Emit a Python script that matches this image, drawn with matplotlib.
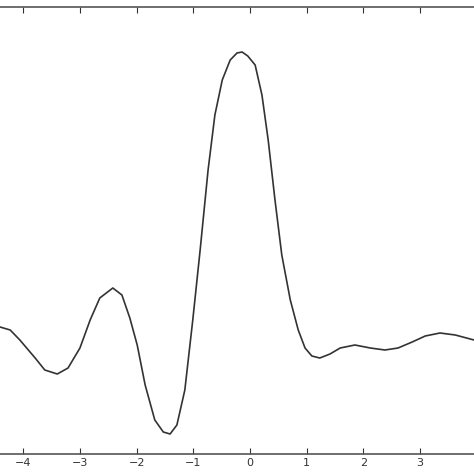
import matplotlib
matplotlib.use("Agg")
import matplotlib.pyplot as plt

x = [-4.41,-4.23,-4.06,-3.79,-3.62,-3.40,-3.21,-3.00,-2.82,-2.65,-2.42,-2.26,-2.12,-1.99,-1.85,-1.68,-1.53,-1.41,-1.29,-1.15,-1.01,-0.88,-0.74,-0.62,-0.49,-0.35,-0.23,-0.14,-0.04,0.09,0.21,0.32,0.44,0.56,0.71,0.85,0.97,1.09,1.23,1.41,1.59,1.85,2.12,2.38,2.61,2.86,3.09,3.35,3.62,3.95]
y = [0,-0.03,-0.13,-0.31,-0.43,-0.47,-0.41,-0.21,0.07,0.29,0.39,0.32,0.09,-0.18,-0.58,-0.93,-1.05,-1.07,-0.98,-0.63,0.07,0.77,1.57,2.12,2.47,2.67,2.74,2.75,2.71,2.62,2.32,1.87,1.27,0.72,0.27,-0.03,-0.21,-0.29,-0.31,-0.27,-0.21,-0.18,-0.21,-0.23,-0.21,-0.15,-0.09,-0.06,-0.08,-0.13]
xticks = [-4,-3,-2,-1,0,1,2,3]

fig = plt.figure(figsize=(4.74,4.74), dpi=100)
ax = fig.add_axes([0, 20/474, 1, 447/474])
ax.plot(x, y, color='#333333', lw=1.2)
ax.set_xlim(-4.41, 3.95)
ax.set_ylim(-1.27, 3.20)
ax.set_xticks(xticks)
ax.set_xticklabels(['\u2212%d' % -t if t < 0 else str(t) for t in xticks], fontsize=8, color='#333333')
ax.set_yticks([])
ax.tick_params(axis='x', direction='in', length=4, top=True, color='#333333', pad=3)
for s in ['left','right']:
    ax.spines[s].set_visible(False)
for s in ['top','bottom']:
    ax.spines[s].set_color('#555555')
    ax.spines[s].set_linewidth(1.2)
fig.savefig('out.png', dpi=100)
